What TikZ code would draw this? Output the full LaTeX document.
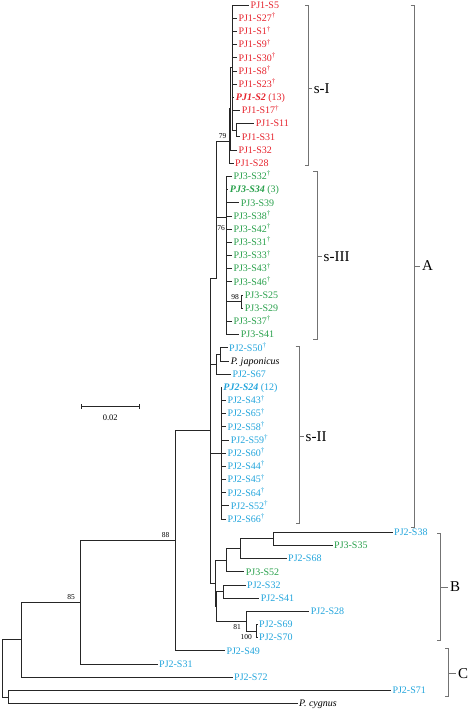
\documentclass[tikz,border=0pt]{standalone}
\usepackage{fontspec}
\setmainfont{Liberation Serif}
\usepackage{tikz}
\definecolor{pjred}{RGB}{230,35,45}
\definecolor{pjgreen}{RGB}{40,160,75}
\definecolor{pjblue}{RGB}{35,165,220}
\newcommand{\dagg}{\textsuperscript{\textdagger}}

\begin{document}
\begin{tikzpicture}[x=1pt, y=-1pt,
    tip/.style={anchor=west, inner sep=1.5pt, font=\fontsize{10}{12}\selectfont, text height=6.6pt, text depth=0pt},
    br/.style={line width=0.75pt, black!85},
    boot/.style={inner sep=0pt, font=\fontsize{7.5}{9}\selectfont},
    brk/.style={line width=0.6pt, black!55},
    clade/.style={anchor=west, inner sep=2pt, font=\fontsize{15}{17}\selectfont}]

    \useasboundingbox (0,0) rectangle (474,712);

    % Taxa, s-I
    \node[tip, pjred] (a5)  at (249,5.0)   {PJ1-S5};
    \node[tip, pjred] (a27) at (236.8,18.2) {PJ1-S27\dagg};
    \node[tip, pjred] (a1)  at (236.8,31.4) {PJ1-S1\dagg};
    \node[tip, pjred] (a9)  at (236.8,44.5) {PJ1-S9\dagg};
    \node[tip, pjred] (a30) at (236.8,57.7) {PJ1-S30\dagg};
    \node[tip, pjred] (a8)  at (236.8,70.9) {PJ1-S8\dagg};
    \node[tip, pjred] (a23) at (236.8,84.1) {PJ1-S23\dagg};
    \node[tip, pjred] (a2)  at (234.2,97.3) {\textbf{\textit{PJ1-S2}} (13)};
    \node[tip, pjred] (a17) at (240.2,110.4) {PJ1-S17\dagg};
    \node[tip, pjred] (a11) at (254.2,123.6) {PJ1-S11};
    \node[tip, pjred] (a31) at (240.2,136.8) {PJ1-S31};
    \node[tip, pjred] (a32) at (236.8,150.0) {PJ1-S32};
    \node[tip, pjred] (a28) at (233.5,163.2) {PJ1-S28};

    % Taxa, s-III
    \node[tip, pjgreen] (c32) at (231.8,176.3) {PJ3-S32\dagg};
    \node[tip, pjgreen] (c34) at (228.2,189.5) {\textbf{\textit{PJ3-S34}} (3)};
    \node[tip, pjgreen] (c39) at (239.2,202.7) {PJ3-S39};
    \node[tip, pjgreen] (c38) at (231.8,215.9) {PJ3-S38\dagg};
    \node[tip, pjgreen] (c42) at (231.8,229.1) {PJ3-S42\dagg};
    \node[tip, pjgreen] (c31) at (231.8,242.2) {PJ3-S31\dagg};
    \node[tip, pjgreen] (c33) at (231.8,255.4) {PJ3-S33\dagg};
    \node[tip, pjgreen] (c43) at (231.8,268.6) {PJ3-S43\dagg};
    \node[tip, pjgreen] (c46) at (231.8,281.8) {PJ3-S46\dagg};
    \node[tip, pjgreen] (c25) at (243.2,295.0) {PJ3-S25};
    \node[tip, pjgreen] (c29) at (243.2,308.1) {PJ3-S29};
    \node[tip, pjgreen] (c37) at (231.8,321.3) {PJ3-S37\dagg};
    \node[tip, pjgreen] (c41) at (239.2,334.5) {PJ3-S41};

    % Taxa, s-II
    \node[tip, pjblue] (b50)  at (227.5,347.7) {PJ2-S50\dagg};
    \node[tip]         (japo) at (229.2,360.9) {\textit{P. japonicus}};
    \node[tip, pjblue] (b67)  at (230.8,374.0) {PJ2-S67};
    \node[tip, pjblue] (b24)  at (221.7,387.2) {\textbf{\textit{PJ2-S24}} (12)};
    \node[tip, pjblue] (b43)  at (225.8,400.4) {PJ2-S43\dagg};
    \node[tip, pjblue] (b65)  at (225.8,413.6) {PJ2-S65\dagg};
    \node[tip, pjblue] (b58)  at (225.8,426.8) {PJ2-S58\dagg};
    \node[tip, pjblue] (b59)  at (229.2,439.9) {PJ2-S59\dagg};
    \node[tip, pjblue] (b60)  at (225.8,453.1) {PJ2-S60\dagg};
    \node[tip, pjblue] (b44)  at (225.8,466.3) {PJ2-S44\dagg};
    \node[tip, pjblue] (b45)  at (225.8,479.5) {PJ2-S45\dagg};
    \node[tip, pjblue] (b64)  at (225.8,492.7) {PJ2-S64\dagg};
    \node[tip, pjblue] (b52)  at (229.2,505.8) {PJ2-S52\dagg};
    \node[tip, pjblue] (b66)  at (225.8,519.0) {PJ2-S66\dagg};

    % Taxa, B, C and outgroup
    \node[tip, pjblue]  (b38) at (392.5,532.2) {PJ2-S38};
    \node[tip, pjgreen] (c35) at (332.5,545.4) {PJ3-S35};
    \node[tip, pjblue]  (b68) at (286.5,558.6) {PJ2-S68};
    \node[tip, pjgreen] (c52) at (244.2,571.7) {PJ3-S52};
    \node[tip, pjblue]  (b32) at (245.5,584.9) {PJ2-S32};
    \node[tip, pjblue]  (b41) at (259.2,598.1) {PJ2-S41};
    \node[tip, pjblue]  (b28) at (309.2,611.3) {PJ2-S28};
    \node[tip, pjblue]  (b69) at (257.5,624.5) {PJ2-S69};
    \node[tip, pjblue]  (b70) at (257.5,637.6) {PJ2-S70};
    \node[tip, pjblue]  (b49) at (224.8,650.8) {PJ2-S49};
    \node[tip, pjblue]  (b31) at (157.5,664.0) {PJ2-S31};
    \node[tip, pjblue]  (b72) at (232.5,677.2) {PJ2-S72};
    \node[tip, pjblue]  (b71) at (390.8,690.4) {PJ2-S71};
    \node[tip]          (cyg) at (297.5,703.5) {\textit{P. cygnus}};

    % Internal nodes
    \coordinate (nc)   at (236,130.2);
    \coordinate (nb)   at (232.3,67.6);
    \coordinate (na)   at (230.8,108.8);
    \coordinate (n79)  at (229.3,141.7);
    \coordinate (n98)  at (241.7,301.6);
    \coordinate (s3)   at (226.7,217.5);
    \coordinate (p)    at (216.7,278.0);
    \coordinate (s2a)  at (220.7,354.3);
    \coordinate (s2t)  at (216,364.2);
    \coordinate (s2b)  at (221.7,453.1);
    \coordinate (nb1b) at (273.3,538.8);
    \coordinate (nb1a) at (240,548.7);
    \coordinate (nb1)  at (226.7,560.2);
    \coordinate (nb3)  at (223.3,591.5);
    \coordinate (n100) at (256.7,631.1);
    \coordinate (n81)  at (246.7,621.2);
    \coordinate (nbb)  at (216.7,606.4);
    \coordinate (nB)   at (215,583.3);
    \coordinate (nA)   at (210,430.7);
    \coordinate (n88)  at (175,540.8);
    \coordinate (n85)  at (80,602.4);
    \coordinate (n22)  at (21.7,639.8);
    \coordinate (nC)   at (8,697.0);
    \coordinate (root) at (2.7,668.4);

    % Branches, s-I
    \draw[br] (nc) |- (a11);
    \draw[br] (nc) |- (a31);
    \draw[br] (nb) |- (a5);
    \draw[br] (nb) |- (a27);
    \draw[br] (nb) |- (a1);
    \draw[br] (nb) |- (a9);
    \draw[br] (nb) |- (a30);
    \draw[br] (nb) |- (a8);
    \draw[br] (nb) |- (a23);
    \draw[br] (nb) |- (a2);
    \draw[br] (nb) |- (a17);
    \draw[br] (nb) |- (nc);
    \draw[br] (na) |- (nb);
    \draw[br] (na) |- (a32);
    \draw[br] (n79) |- (na);
    \draw[br] (n79) |- (a28);

    % Branches, s-III
    \draw[br] (n98) |- (c25);
    \draw[br] (n98) |- (c29);
    \draw[br] (s3) |- (c32);
    \draw[br] (s3) |- (c34);
    \draw[br] (s3) |- (c39);
    \draw[br] (s3) |- (c38);
    \draw[br] (s3) |- (c42);
    \draw[br] (s3) |- (c31);
    \draw[br] (s3) |- (c33);
    \draw[br] (s3) |- (c43);
    \draw[br] (s3) |- (c46);
    \draw[br] (s3) |- (n98);
    \draw[br] (s3) |- (c37);
    \draw[br] (s3) |- (c41);
    \draw[br] (p) |- (n79);
    \draw[br] (p) |- (s3);

    % Branches, s-II
    \draw[br] (s2a) |- (b50);
    \draw[br] (s2a) |- (japo);
    \draw[br] (s2t) |- (s2a);
    \draw[br] (s2t) |- (b67);
    \draw[br] (s2b) |- (b24);
    \draw[br] (s2b) |- (b43);
    \draw[br] (s2b) |- (b65);
    \draw[br] (s2b) |- (b58);
    \draw[br] (s2b) |- (b59);
    \draw[br] (s2b) |- (b60);
    \draw[br] (s2b) |- (b44);
    \draw[br] (s2b) |- (b45);
    \draw[br] (s2b) |- (b64);
    \draw[br] (s2b) |- (b52);
    \draw[br] (s2b) |- (b66);

    % Branches, B
    \draw[br] (nb1b) |- (b38);
    \draw[br] (nb1b) |- (c35);
    \draw[br] (nb1a) |- (nb1b);
    \draw[br] (nb1a) |- (b68);
    \draw[br] (nb1) |- (nb1a);
    \draw[br] (nb1) |- (c52);
    \draw[br] (nb3) |- (b32);
    \draw[br] (nb3) |- (b41);
    \draw[br] (n100) |- (b69);
    \draw[br] (n100) |- (b70);
    \draw[br] (n81) |- (b28);
    \draw[br] (n81) |- (n100);
    \draw[br] (nbb) |- (nb3);
    \draw[br] (nbb) |- (n81);
    \draw[br] (nB) |- (nb1);
    \draw[br] (nB) |- (nbb);

    % Backbone
    \draw[br] (nA) |- (p);
    \draw[br] (nA) |- (s2t);
    \draw[br] (nA) |- (s2b);
    \draw[br] (nA) |- (nB);
    \draw[br] (n88) |- (nA);
    \draw[br] (n88) |- (b49);
    \draw[br] (n85) |- (n88);
    \draw[br] (n85) |- (b31);
    \draw[br] (n22) |- (n85);
    \draw[br] (n22) |- (b72);
    \draw[br] (nC) |- (b71);
    \draw[br] (nC) |- (cyg);
    \draw[br] (root) |- (n22);
    \draw[br] (root) |- (nC);

    % Bootstrap values
    \node[boot] (l79)  at (222.5,136.5) {79};
    \node[boot] (l76)  at (221,227.7)   {76};
    \node[boot] (l98)  at (235,296.7)   {98};
    \node[boot] (l88)  at (165.7,535)   {88};
    \node[boot] (l85)  at (71,597.3)    {85};
    \node[boot] (l81)  at (237,627.3)   {81};
    \node[boot] (l100) at (246.2,637.3) {100};

    % Scale bar
    \coordinate (sb1) at (81.7,406.7);
    \coordinate (sb2) at (139,406.7);
    \draw[br] (sb1) -- (sb2);
    \draw[br] ([yshift=2.5pt]sb1) -- ([yshift=-2.5pt]sb1);
    \draw[br] ([yshift=2.5pt]sb2) -- ([yshift=-2.5pt]sb2);
    \node[inner sep=0pt, font=\fontsize{8.5}{10}\selectfont] (sbl) at (110.3,417.5) {0.02};

    % Clade brackets
    \node[clade] (sI) at (311.7,88.3) {s-I};
    \draw[brk] (305,5) -- (308.3,5) -- (308.3,165) -- (305,165);
    \draw[brk] (308.3,88.3) -- (sI.west);
    \node[clade] (sIII) at (321.5,256.7) {s-III};
    \draw[brk] (313.3,171) -- (317.3,171) -- (317.3,339.3) -- (313.3,339.3);
    \draw[brk] (317.3,256.7) -- (sIII.west);
    \node[clade] (sII) at (303.5,436.7) {s-II};
    \draw[brk] (295.7,346) -- (299.3,346) -- (299.3,523.3) -- (295.7,523.3);
    \draw[brk] (299.3,436.7) -- (sII.west);
    \node[clade] (cA) at (420,266) {A};
    \draw[brk] (410.5,5) -- (414.5,5) -- (414.5,527) -- (410.5,527);
    \draw[brk] (414.5,266) -- (cA.west);
    \node[clade] (cB) at (448,587) {B};
    \draw[brk] (437,533) -- (440.7,533) -- (440.7,640.7) -- (437,640.7);
    \draw[brk] (440.7,587) -- (cB.west);
    \node[clade] (cC) at (456,673.3) {C};
    \draw[brk] (445,648.3) -- (448.3,648.3) -- (448.3,696.7) -- (445,696.7);
    \draw[brk] (448.3,673.3) -- (cC.west);
\end{tikzpicture}
\end{document}
